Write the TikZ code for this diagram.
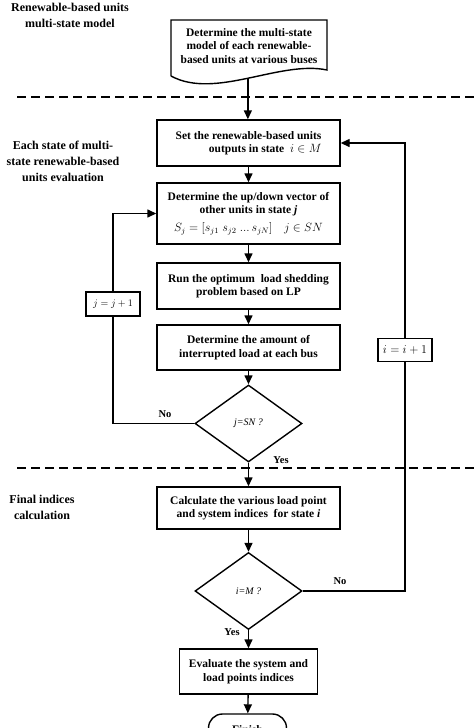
\documentclass[tikz,border=0pt]{standalone}
\usepackage{fontspec}
\setmainfont{Liberation Serif}
\usetikzlibrary{shapes.geometric,arrows.meta}
\begin{document}
\begin{tikzpicture}[x=1pt, y=-1pt,
        boxnode/.style={draw,line width=1.4pt,fill=white,rectangle,inner sep=2pt,align=center,
          minimum width=183,font=\fontsize{11.5}{13.5}\selectfont\bfseries},
        decnode/.style={draw,line width=1.4pt,fill=white,diamond,inner sep=0pt,
          minimum width=107,minimum height=77,font=\fontsize{10}{12}\selectfont\itshape},
        incnode/.style={draw,line width=1.2pt,fill=white,rectangle,inner sep=2pt,minimum width=54},
        phasenode/.style={align=center,font=\fontsize{12}{16}\selectfont\bfseries},
        tagnode/.style={font=\fontsize{10.5}{12}\selectfont\bfseries},
        flow/.style={line width=1.4pt,-{Triangle[width=8pt,length=9pt]}},
        loopline/.style={line width=1.4pt},
        phaseline/.style={line width=1.6pt,dash pattern=on 9pt off 5pt}
        ]
        %frame of the page
        \useasboundingbox (0,0) rectangle (474,728);
        \clip (0,0) rectangle (474,728);
        % phase titles
        \node[phasenode] (phasemodel) at (70,15) {Renewable-based units\\multi-state model};
        \node[phasenode] (phasestate) at (63,161) {Each state of multi-\\state renewable-based\\units evaluation};
        \node[phasenode] (phaseindex) at (42,507) {Final indices\\calculation};
        \draw[phaseline] (17,97) -- (474,97);
        \draw[phaseline] (17,468) -- (474,468);
        % document shape
        \node[align=center,font=\fontsize{11.5}{13.5}\selectfont\bfseries] (model) at (249,46)
          {Determine the multi-state\\model of each renewable-\\based units at various buses};
        \draw[line width=1.4pt] (171,76) -- (171,20) -- (327,20) -- (327,70)
          .. controls (280,60) and (215,100) .. (171,76) coordinate[pos=0.5] (modelend);
        % main column
        \node[boxnode,minimum height=46,align=right] (set) at (248.5,143)
          {Set the renewable-based units\\outputs in state \ $i\in M$};
        \node[boxnode,minimum height=61] (vector) at (248.5,213.5)
          {Determine the up/down vector of\\other units in state \textit{j}\\[4pt]
           $S_j=\big[s_{j1}\;s_{j2}\;...\,s_{jN}\big]\quad j\in SN$};
        \node[boxnode,minimum height=46] (shed) at (248.5,286)
          {Run the optimum\ \ load shedding\\problem based on LP};
        \node[boxnode,minimum height=45] (loss) at (248.5,347.5)
          {Determine the amount of\\interrupted load at each bus};
        \node[decnode] (jcheck) at (248.5,423.5) {j=SN ?};
        \node[boxnode,minimum height=42] (calc) at (248.5,508)
          {Calculate the various load point\\and system indices\ \ for state \textit{i}};
        \node[decnode] (icheck) at (248.5,591) {i=M ?};
        \node[boxnode,minimum width=138,minimum height=45] (final) at (248.5,671.5)
          {Evaluate the system and\\load points indices};
        \node[draw,line width=1.4pt,rounded corners=14pt,minimum width=78,minimum height=32,
          font=\fontsize{11.5}{13.5}\selectfont\bfseries] (finish) at (247.5,730) {Finish};
        % counters
        \node[incnode,minimum height=24,font=\fontsize{10}{12}\selectfont] (jinc) at (113,304) {$j=j+1$};
        \node[incnode,minimum height=23,font=\fontsize{12.5}{14}\selectfont] (iinc) at (405,350) {$i=i+1$};
        % answers
        \node[tagnode] (jno) at (165,414) {No};
        \node[tagnode] (jyes) at (281,460) {Yes};
        \node[tagnode] (ino) at (340,581) {No};
        \node[tagnode] (iyes) at (232,632) {Yes};
        % connectors
        \draw[flow] (modelend) -- (modelend |- set.north);
        \draw[flow] (set) -- (vector);
        \draw[flow] (vector) -- (shed);
        \draw[flow] (shed) -- (loss);
        \draw[flow] (loss) -- (jcheck);
        \draw[flow] (jcheck) -- (calc);
        \draw[flow] (calc) -- (icheck);
        \draw[flow] (icheck) -- (final);
        \draw[flow] (final) -- (finish);
        \draw[loopline] (jcheck.west) -| (jinc);
        \draw[flow] (jinc) |- (vector.west);
        \draw[loopline] (icheck.east) -| (iinc);
        \draw[flow] (iinc) |- (set.east);
      \end{tikzpicture}
\end{document}
